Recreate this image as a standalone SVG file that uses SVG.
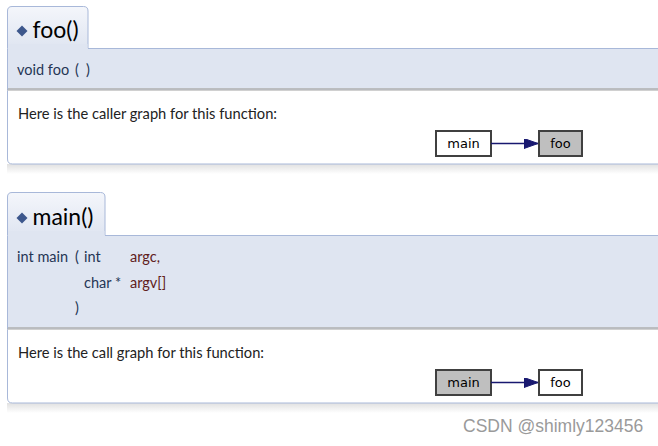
<svg xmlns="http://www.w3.org/2000/svg" width="658" height="446" viewBox="0 0 658 446">
<defs>
<linearGradient id="tabg" x1="0" y1="0" x2="0" y2="1">
<stop offset="0" stop-color="#f4f6fb"/>
<stop offset="1" stop-color="#dfe5f1"/>
</linearGradient>
<linearGradient id="shad" x1="0" y1="0" x2="0" y2="1">
<stop offset="0" stop-color="#000" stop-opacity="0.12"/>
<stop offset="1" stop-color="#000" stop-opacity="0"/>
</linearGradient>
<marker id="ah" markerWidth="14" markerHeight="10" refX="14" refY="5" orient="auto" markerUnits="userSpaceOnUse">
<path d="M0,0 L14,5 L0,10 Z" fill="#191970" stroke="#191970"/>
</marker>
<style>
.tab{fill:url(#tabg);stroke:#a8b8d9;stroke-width:1}
.band{fill:#dfe5f1;stroke:none}
.bline{stroke:#a8b8d9;stroke-width:1;fill:none}
.body{fill:#fff;stroke:#a8b8d9;stroke-width:1}
.title{font-family:Lato,"Noto Sans",sans-serif;font-size:23px;fill:#000}
.proto{font-family:Lato,"Noto Sans",sans-serif;font-size:14.5px;fill:#253555}
.param{fill:#602020}
.desc{font-family:Lato,"Noto Sans",sans-serif;font-size:15px;fill:#222}
.nlabel{font-family:"DejaVu Sans",sans-serif;font-size:13px;fill:#000;text-anchor:middle}
.node{stroke:#404040;stroke-width:2}
.edge{stroke:#191970;stroke-width:1.5;fill:none}
.diam{fill:#3d578c}
.wm{font-family:"Liberation Sans",Arial,sans-serif;font-size:17.5px;fill:#9a9a9a}
</style>
</defs>

<!-- Section foo -->
<g id="sec-foo">
<rect x="7" y="164" width="651" height="10" fill="url(#shad)"/>
<path class="body" d="M658,89 L7.5,89 L7.5,159 Q7.5,164 12.5,164 L658,164"/>
<rect class="band" x="7.5" y="48.5" width="651" height="40"/>
<line x1="7.5" y1="89" x2="658" y2="89" stroke="#b0b0b0" stroke-width="1.5"/>
<line x1="7.5" y1="90.5" x2="658" y2="90.5" stroke="#d0d0d0" stroke-width="1"/>
<path class="tab" d="M7.5,48.5 L7.5,11 Q7.5,6.5 12,6.5 L83.5,6.5 Q88,6.5 88,11 L88,48.5"/>
<rect x="8" y="44" width="79.5" height="6" fill="#dfe5f1"/>
<path class="bline" d="M88,48.5 L658,48.5 M7.5,48.5 L7.5,89"/>
<path class="diam" d="M16.5,31 L22,25.5 L27.5,31 L22,36.5 Z"/>
<text class="title" x="32.5" y="38">foo()</text>
<text class="proto" x="17" y="75">void foo</text>
<text class="proto" x="75" y="75">(</text>
<text class="proto" x="86" y="75">)</text>
<text class="desc" x="18" y="119" textLength="259" lengthAdjust="spacingAndGlyphs">Here is the caller graph for this function:</text>
</g>

<!-- Section main -->
<g id="sec-main">
<rect x="7" y="403" width="651" height="10" fill="url(#shad)"/>
<path class="body" d="M658,328 L7.5,328 L7.5,398 Q7.5,403 12.5,403 L658,403"/>
<rect class="band" x="7.5" y="235.5" width="651" height="92"/>
<line x1="7.5" y1="328" x2="658" y2="328" stroke="#b0b0b0" stroke-width="1.5"/>
<line x1="7.5" y1="329.5" x2="658" y2="329.5" stroke="#d0d0d0" stroke-width="1"/>
<path class="tab" d="M7.5,235.5 L7.5,197 Q7.5,192.5 12,192.5 L100.5,192.5 Q105,192.5 105,197 L105,235.5"/>
<rect x="8" y="231" width="96.5" height="6" fill="#dfe5f1"/>
<path class="bline" d="M105,235.5 L658,235.5 M7.5,235.5 L7.5,328"/>
<path class="diam" d="M16.5,218 L22,212.5 L27.5,218 L22,223.5 Z"/>
<text class="title" x="32.5" y="225">main()</text>
<text class="proto" x="17" y="262">int main</text>
<text class="proto" x="75" y="262">(</text>
<text class="proto" x="84" y="262">int</text>
<text class="proto param" x="130" y="262">argc,</text>
<text class="proto" x="84" y="288">char *</text>
<text class="proto param" x="130" y="288">argv[]</text>
<text class="proto" x="75" y="313">)</text>
<text class="desc" x="18" y="358" textLength="246" lengthAdjust="spacingAndGlyphs">Here is the call graph for this function:</text>
</g>

<!-- Graph nodes -->
<g id="g1-main"><rect class="node" x="436" y="131" width="55" height="25" fill="#fff"/><text class="nlabel" x="463.5" y="148">main</text></g>
<g id="g1-foo"><rect class="node" x="539" y="131" width="43" height="25" fill="#bfbfbf"/><text class="nlabel" x="560.5" y="148">foo</text></g>
<g id="g2-main"><rect class="node" x="436" y="370" width="55" height="25" fill="#bfbfbf"/><text class="nlabel" x="463.5" y="387">main</text></g>
<g id="g2-foo"><rect class="node" x="539" y="370" width="43" height="25" fill="#fff"/><text class="nlabel" x="560.5" y="387">foo</text></g>

<g id="connectors">
<line class="edge" x1="491" y1="143.5" x2="538" y2="143.5" marker-end="url(#ah)"/>
<line class="edge" x1="491" y1="382.5" x2="538" y2="382.5" marker-end="url(#ah)"/>
</g>

<text class="wm" x="463" y="432">CSDN @shimly123456</text>
</svg>
